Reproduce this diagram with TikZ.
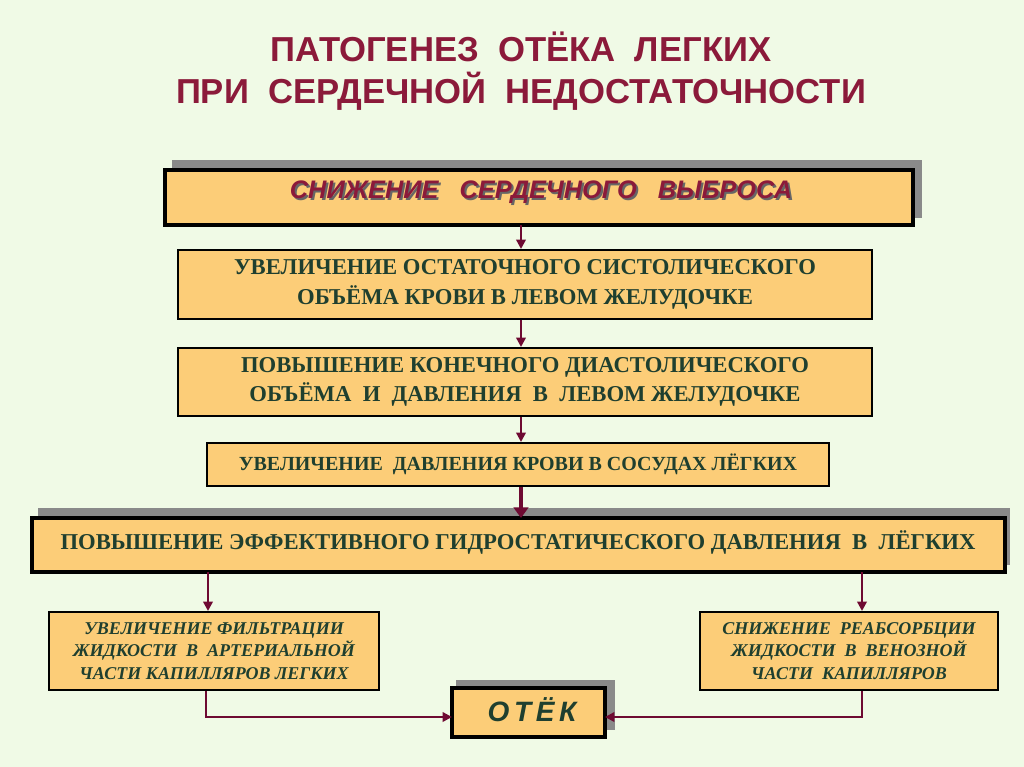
\documentclass[tikz,border=0pt]{standalone}
\usepackage{fontspec}
\setmainfont{Liberation Serif}
\setsansfont{Liberation Sans}
\usetikzlibrary{arrows.meta}
\definecolor{bg}{HTML}{F0FAE6}
\definecolor{fillc}{HTML}{FCCD78}
\definecolor{dred}{HTML}{8B1A3A}
\definecolor{dgreen}{HTML}{1F3F2F}
\definecolor{arr}{HTML}{6E0A32}
\definecolor{shd}{HTML}{8A8A8A}
\begin{document}
\begin{tikzpicture}[x=0.75pt,y=-0.75pt,
  box/.style={draw=black,fill=fillc,line width=1.5pt},
  thickbox/.style={draw=black,fill=fillc,line width=3pt},
  shadowr/.style={fill=shd},
  txt/.style={font=\bfseries\fontsize{17}{22}\selectfont,text=dgreen,align=center},
  itxt/.style={font=\bfseries\itshape\fontsize{13.5}{17}\selectfont,text=dgreen,align=center},
  ar/.style={draw=arr,line width=1.8pt,-{Triangle[length=7pt,width=7pt]}}]
\fill[bg] (0,0) rectangle (1024,767);
\node[font=\sffamily\bfseries\fontsize{26}{32}\selectfont,text=dred,align=center] (title) at (521,71) {ПАТОГЕНЕЗ\ \ ОТЁКА\ \ ЛЕГКИХ\\ПРИ\ \ СЕРДЕЧНОЙ\ \ НЕДОСТАТОЧНОСТИ};
% box1
\fill[shadowr] (172,160) rectangle (922,218);
\draw[thickbox] (165,170) rectangle (913,225);
\node[font=\sffamily\bfseries\itshape\fontsize{19}{22}\selectfont,text=black!60] at (543,194) {СНИЖЕНИЕ\ \ \ СЕРДЕЧНОГО\ \ \ ВЫБРОСА};
\node[font=\sffamily\bfseries\itshape\fontsize{19}{22}\selectfont,text=dred] (t1) at (541,192) {СНИЖЕНИЕ\ \ \ СЕРДЕЧНОГО\ \ \ ВЫБРОСА};
\coordinate (b1s) at (521,225);
% box2
\node[box,minimum width=694*0.75pt,minimum height=69*0.75pt,inner sep=0pt] (b2) at (525,284.5) {};
\node[txt] at (b2) {УВЕЛИЧЕНИЕ ОСТАТОЧНОГО СИСТОЛИЧЕСКОГО\\ОБЪЁМА КРОВИ В ЛЕВОМ ЖЕЛУДОЧКЕ};
\node[box,minimum width=694*0.75pt,minimum height=68*0.75pt,inner sep=0pt] (b3) at (525,382) {};
\node[txt] at (b3) {ПОВЫШЕНИЕ КОНЕЧНОГО ДИАСТОЛИЧЕСКОГО\\ОБЪЁМА\ \ И\ \ ДАВЛЕНИЯ\ \ В\ \ ЛЕВОМ ЖЕЛУДОЧКЕ};
\node[box,minimum width=622*0.75pt,minimum height=43*0.75pt,inner sep=0pt] (b4) at (518,464.5) {};
\node[txt,font=\bfseries\fontsize{15}{18}\selectfont] at (b4) {УВЕЛИЧЕНИЕ\ \ ДАВЛЕНИЯ КРОВИ В СОСУДАХ ЛЁГКИХ};
% box5
\fill[shadowr] (38,508) rectangle (1010,565);
\draw[thickbox] (32,518) rectangle (1005,572);
\node[txt,font=\bfseries\fontsize{17}{20}\selectfont] (b5) at (518,542) {ПОВЫШЕНИЕ ЭФФЕКТИВНОГО ГИДРОСТАТИЧЕСКОГО ДАВЛЕНИЯ\ \ В\ \ ЛЁГКИХ};
\coordinate (b5t) at (521,518);
\coordinate (b5l) at (208,572);
\coordinate (b5r) at (862,572);
% box6,7
\node[box,minimum width=330*0.75pt,minimum height=78*0.75pt,inner sep=0pt] (b6) at (214,651) {};
\node[itxt] at (b6) {УВЕЛИЧЕНИЕ ФИЛЬТРАЦИИ\\ЖИДКОСТИ\ \ В\ \ АРТЕРИАЛЬНОЙ\\ЧАСТИ КАПИЛЛЯРОВ ЛЕГКИХ};
\node[box,minimum width=298*0.75pt,minimum height=78*0.75pt,inner sep=0pt] (b7) at (849,651) {};
\node[itxt] at (b7) {СНИЖЕНИЕ\ \ РЕАБСОРБЦИИ\\ЖИДКОСТИ\ \ В\ \ ВЕНОЗНОЙ\\ЧАСТИ\ \ КАПИЛЛЯРОВ};
% box8
\fill[shadowr] (456,680) rectangle (615,730);
\draw[thickbox] (452,688) rectangle (605,737);
\node[font=\sffamily\bfseries\itshape\fontsize{21}{24}\selectfont,text=dgreen] (b8) at (532,710) {О\,Т\,Ё\,К};
\coordinate (b8l) at (452,717);
\coordinate (b8r) at (605,717);
% arrows
\draw[ar] (b1s) -- (b2.north -| b1s);
\draw[ar] (b2.south -| b1s) -- (b3.north -| b1s);
\draw[ar] (b3.south -| b1s) -- (b4.north -| b1s);
\draw[ar,line width=3.5pt,-{Triangle[length=8pt,width=11pt]}] (b4.south -| b1s) -- (b5t);
\draw[ar] (b5l) -- (b6.north -| b5l);
\draw[ar] (b5r) -- (b7.north -| b5r);
\draw[ar] (b6.south -| 206,0) |- (b8l);
\draw[ar] (b7.south -| b5r) |- (b8r);
\end{tikzpicture}
\end{document}
